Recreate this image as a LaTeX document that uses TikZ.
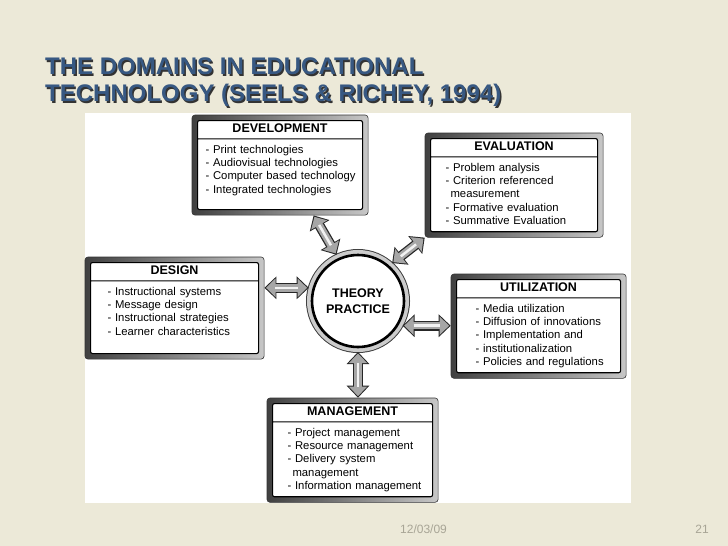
\documentclass[tikz,border=0pt]{standalone}
\usepackage{fontspec}
\setmainfont{Liberation Sans}
\usepackage{tikz}
\usetikzlibrary{arrows.meta,shapes.multipart,fit,backgrounds,calc}

\definecolor{slidebg}{RGB}{236,233,216}
\definecolor{titleblue}{RGB}{55,88,130}
\definecolor{footgray}{RGB}{168,165,150}

\newcommand\headline[1]{\centering\fontsize{12.5}{14}\selectfont\bfseries\rule[-2.5pt]{0pt}{9.5pt}#1\par}
\newcommand\firstrule{\rule{0pt}{11pt}}
\newcommand\lastgap[1]{\rule[-#1]{0pt}{0pt}\par}

\tikzset{
  domainbox/.style={rectangle split, rectangle split parts=2, draw=black, line width=1.1pt,
    fill=white, rounded corners=2pt, inner xsep=6pt, inner ysep=3pt, align=left,
    anchor=north west, font=\fontsize{11.3}{13.2}\selectfont},
  bezel/.style={draw=black!80, line width=0.6pt, rounded corners=3pt,
    left color=black!75, right color=black!22, inner sep=5pt},
  linkpipe/.style={draw=black!85, line width=10pt,
    {Triangle[length=12pt,width=22pt]}-{Triangle[length=12pt,width=22pt]},
    postaction={draw=gray!70, line width=7.5pt,
      {Triangle[length=9.5pt,width=18pt]}-{Triangle[length=9.5pt,width=18pt]},
      shorten <=1.6pt, shorten >=1.6pt},
    postaction={draw=gray!10, line width=2.5pt, -, shorten <=11pt, shorten >=11pt}},
  headtitle/.style={anchor=north west, inner sep=0pt, align=left,
    font=\fontsize{24}{27}\selectfont\bfseries},
  footer/.style={text=footgray, inner sep=0pt, font=\fontsize{12}{14}\selectfont}
}

\begin{document}
\begin{tikzpicture}[x=1pt, y=-1pt]
\useasboundingbox (0,0) rectangle (728,546);
%%%%% Title %%%%%
\node[headtitle, text=black!80] (titleshade) at (46.5,59.5) {THE DOMAINS IN EDUCATIONAL\\TECHNOLOGY (SEELS \& RICHEY, 1994)};
\node[headtitle, text=titleblue] (title) at (45,58) {THE DOMAINS IN EDUCATIONAL\\TECHNOLOGY (SEELS \& RICHEY, 1994)};

%%%%% Domains %%%%%
\node[domainbox, text width=153pt] (dev) at (197,120)
  {\headline{DEVELOPMENT}
   \nodepart{two}\leftskip=2pt\firstrule- Print technologies\\
   - Audiovisual technologies\\
   - Computer based technology\\
   - Integrated technologies\lastgap{13pt}};
\node[domainbox, text width=155pt] (eval) at (430,138)
  {\headline{EVALUATION}
   \nodepart{two}\leftskip=9pt\firstrule- Problem analysis\\
   - Criterion referenced\\
   \hspace*{5pt}measurement\\
   - Formative evaluation\\
   - Summative Evaluation\lastgap{4pt}};
\node[domainbox, text width=156pt] (dsgn) at (90,262)
  {\headline{DESIGN}
   \nodepart{two}\leftskip=11pt\firstrule- Instructional systems\\
   - Message design\\
   - Instructional strategies\\
   - Learner characteristics\lastgap{15pt}};
\node[domainbox, text width=152pt] (util) at (456,279)
  {\headline{UTILIZATION}
   \nodepart{two}\leftskip=13pt\firstrule- Media utilization\\
   - Diffusion of innovations\\
   - Implementation and\\
   - institutionalization\\
   - Policies and regulations\lastgap{4pt}};
\node[domainbox, text width=148pt] (mgmt) at (272,403)
  {\headline{MANAGEMENT}
   \nodepart{two}\leftskip=9pt\firstrule- Project management\\
   - Resource management\\
   - Delivery system\\
   \hspace*{5pt}management\\
   - Information management\lastgap{4pt}};

%%%%% Centre %%%%%
\node[circle, minimum size=92pt, outer sep=5pt, draw=black, line width=2.6pt, fill=white,
  preaction={draw=black!75, line width=12pt}, preaction={draw=gray!40, line width=10pt},
  align=center, font=\fontsize{12.5}{16}\selectfont\bfseries] (core) at (358,301) {THEORY\\PRACTICE};

%%%%% Frames and slide %%%%%
\begin{scope}[on background layer]
\fill[slidebg] (0,0) rectangle (728,546);
\fill[white] (85,113) rectangle (631,503);
\node[bezel, fit=(dev)] (devframe) {};
\node[bezel, fit=(eval)] (evalframe) {};
\node[bezel, fit=(dsgn)] (dsgnframe) {};
\node[bezel, fit=(util)] (utilframe) {};
\node[bezel, fit=(mgmt)] (mgmtframe) {};
\end{scope}

%%%%% Arrows %%%%%
\draw[linkpipe] (core.165) -- (core.165 -| dsgnframe.east);
\draw[linkpipe] (core.115) -- ($(devframe.south west)!0.69!(devframe.south east)$);
\draw[linkpipe] (core.48) -- (evalframe.south west);
\draw[linkpipe] (core.-29) -- (core.-29 -| utilframe.west);
\draw[linkpipe] (core.south) -- (core.south |- mgmtframe.north);

%%%%% Footer %%%%%
\node[footer, anchor=base west] (date) at (400,533) {12/03/09};
\node[footer, anchor=base east] (page) at (709,533) {21};
\end{tikzpicture}
\end{document}
